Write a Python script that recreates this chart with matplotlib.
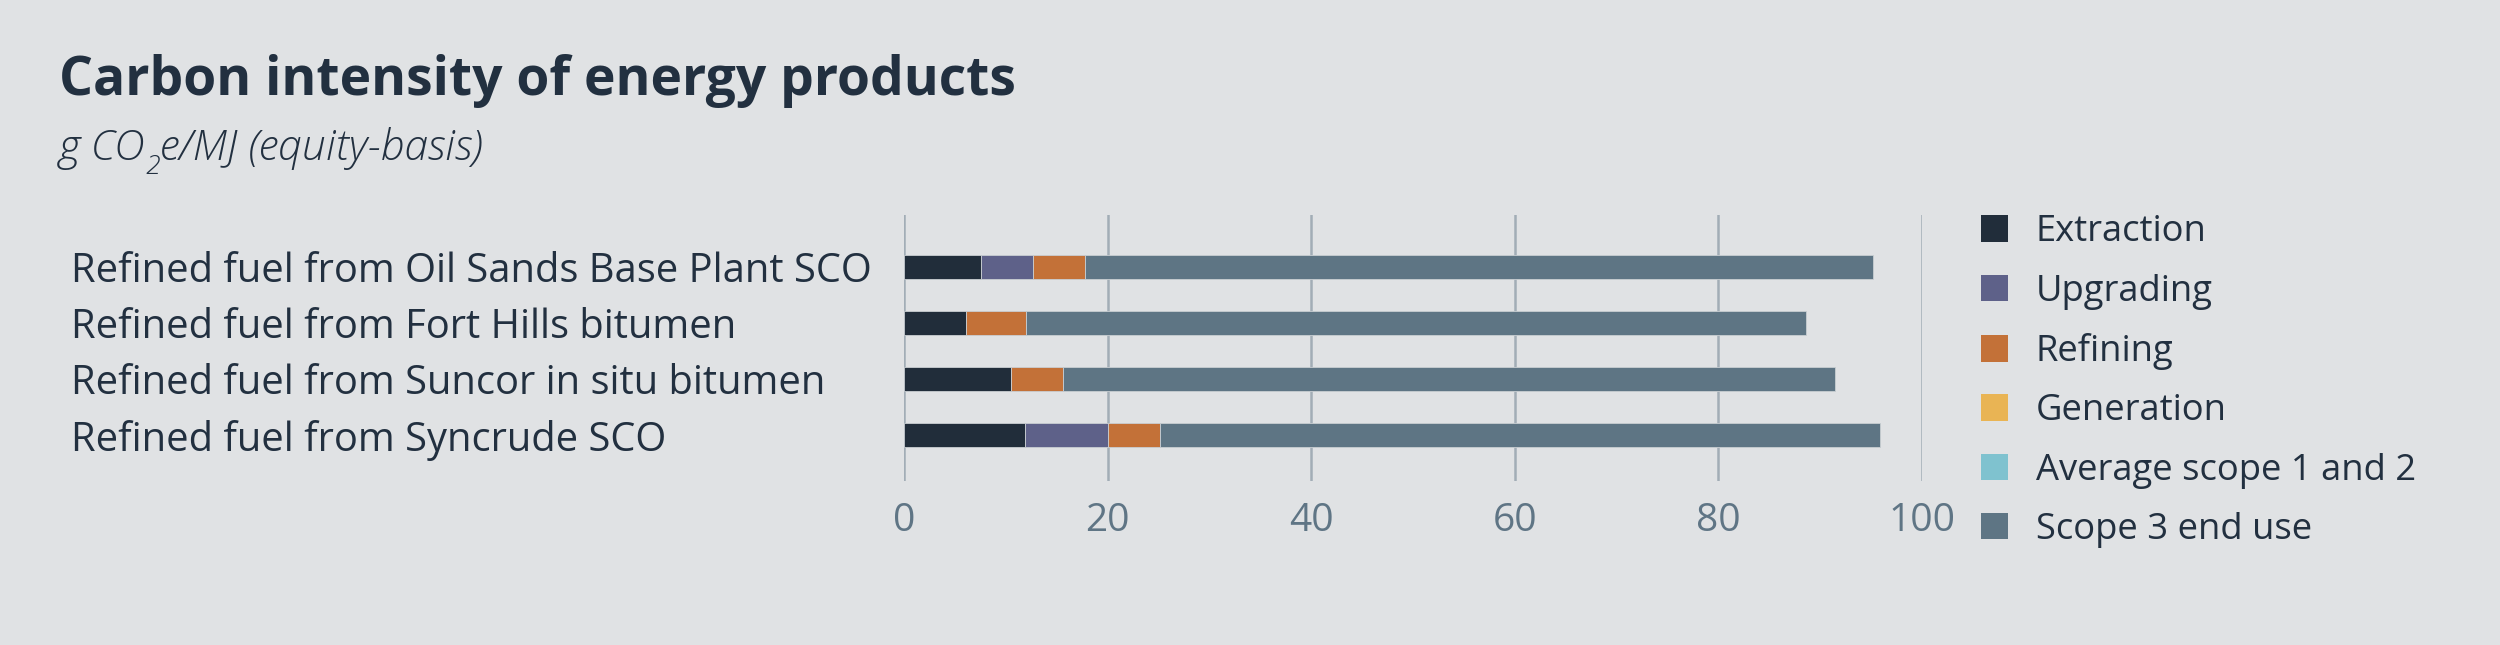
import numpy as np
import matplotlib.pyplot as plt
from matplotlib.patches import Patch

products = ["Refined fuel from Oil Sands Base Plant SCO",
            "Refined fuel from Fort Hills bitumen",
            "Refined fuel from Suncor in situ bitumen",
            "Refined fuel from Syncrude SCO"]
stages = ["Extraction", "Upgrading", "Refining", "Generation",
          "Average scope 1 and 2", "Scope 3 end use"]
extraction = [7.6, 6.1, 10.5, 11.9]
upgrading = [5.1, 0.0, 0.0, 8.1]
refining = [5.1, 5.9, 5.1, 5.1]
generation = [0.0, 0.0, 0.0, 0.0]
avg_scope12 = [0.0, 0.0, 0.0, 0.0]
scope3 = [77.4, 76.6, 75.9, 70.8]
x_ticks = [0, 20, 40, 60, 80, 100]

colors = ["#212d3a", "#5e6189", "#c37138", "#e9b454", "#7fc2cf", "#5e7584"]
bg = "#e0e2e4"
dark = "#223040"

plt.rcParams['font.family'] = ['Open Sans', 'DejaVu Sans']

fig = plt.figure(figsize=(25, 6.45), dpi=100, facecolor=bg)
ax = fig.add_axes([0.3616, 0.2543, 0.4072, 0.4124])
ax.set_facecolor(bg)

series = [extraction, upgrading, refining, generation, avg_scope12, scope3]
y = np.arange(len(products))
left = np.zeros(len(products))
for vals, c, name in zip(series, colors, stages):
    vals = np.array(vals)
    ax.barh(y, vals, left=left, height=0.42, color=c, label=name,
            edgecolor="#c9ced2", linewidth=0.6, zorder=3)
    left += vals

ax.set_xlim(0, 100)
ax.set_ylim(3.82, -0.93)
ax.set_xticks(x_ticks)
ax.set_xticklabels([str(t) for t in x_ticks])
ax.set_yticks(y)
ax.set_yticklabels(products)
for lab in ax.get_yticklabels():
    lab.set_horizontalalignment('left')
ax.tick_params(axis='y', length=0, pad=600, labelsize=28.7, labelcolor=dark)
ax.tick_params(axis='x', length=0, pad=15, labelsize=28, labelcolor="#5f7585")
ax.grid(axis='x', color="#a2adb6", linewidth=1.8, zorder=0)
for s in ax.spines.values():
    s.set_visible(False)

handles = [Patch(facecolor=c, label=n) for c, n in zip(colors, stages)]
fig.legend(handles=handles, loc='upper left', bbox_to_anchor=(0.7924, 0.6676),
           frameon=False, fontsize=26.2, handlelength=0.75, handleheight=0.75,
           handletextpad=0.75, labelspacing=0.64, borderaxespad=0, borderpad=0,
           labelcolor=dark)

fig.text(0.0236, 0.852, "Carbon intensity of energy products", fontsize=38.4,
         fontweight='bold', color=dark, va='baseline')

# subtitle with subscript 2
sub_y = 0.752
t1 = fig.text(0.0236, sub_y, "g CO", fontsize=30.6, style='italic', color=dark,
              va='baseline', fontweight='light')
fig.canvas.draw()
r = fig.canvas.get_renderer()
bb = t1.get_window_extent(r).transformed(fig.transFigure.inverted())
t2 = fig.text(bb.x1, sub_y - 0.021, "2", fontsize=19, style='italic', color=dark,
              va='baseline', fontweight='light')
bb2 = t2.get_window_extent(r).transformed(fig.transFigure.inverted())
fig.text(bb2.x1, sub_y, "e/MJ (equity-basis)", fontsize=30.6, style='italic',
         color=dark, va='baseline', fontweight='light')

fig.savefig("out.png", dpi=100, facecolor=bg)
